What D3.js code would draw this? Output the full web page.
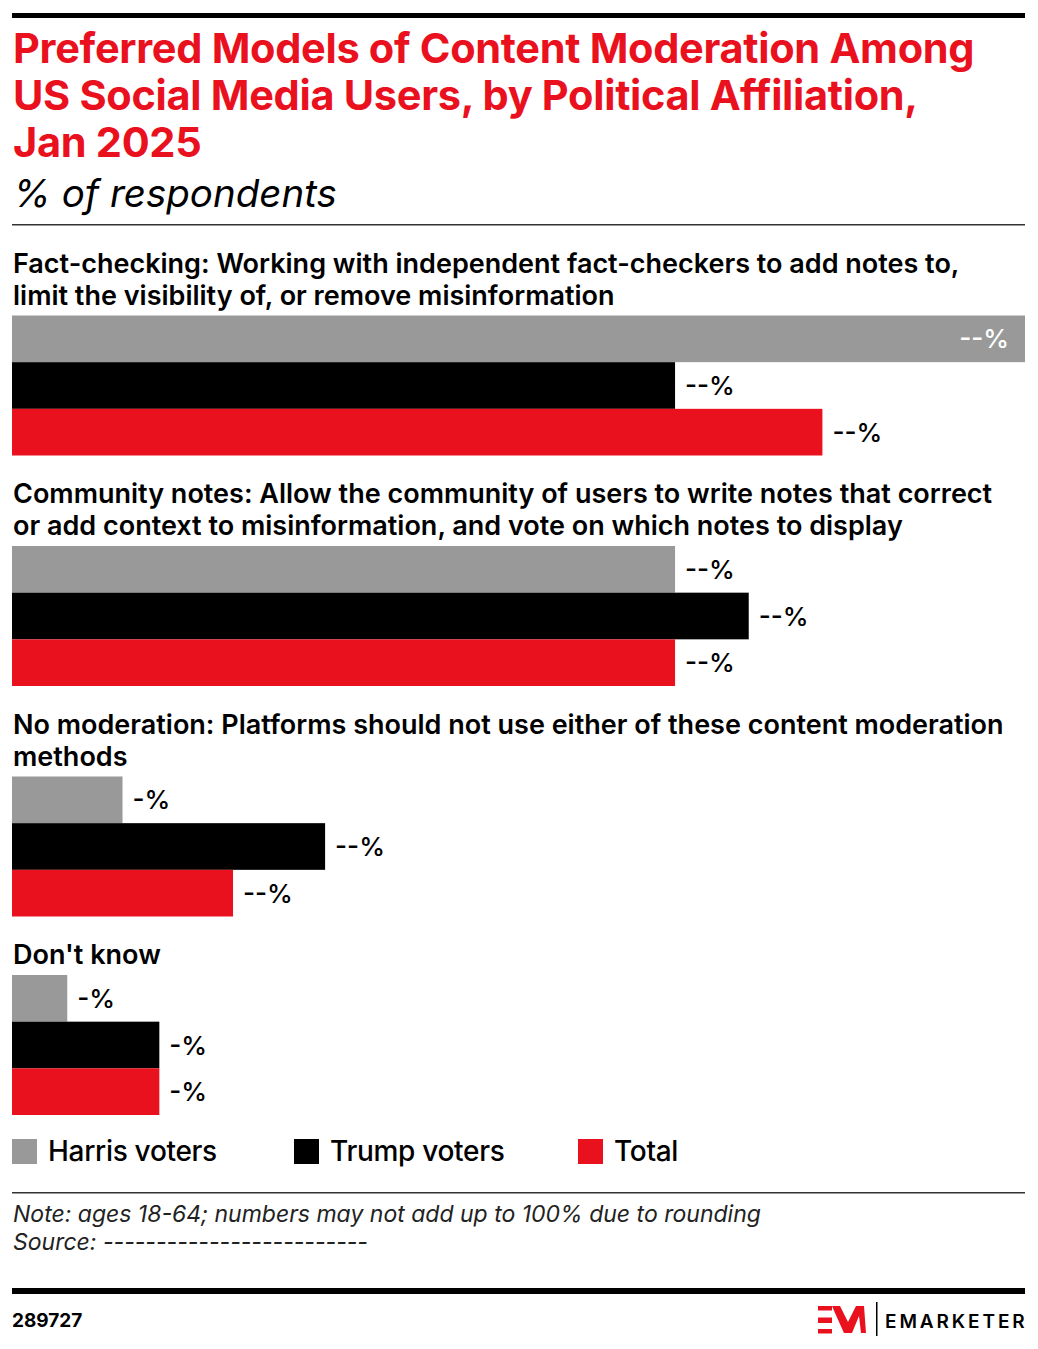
<!DOCTYPE html>
<html>
<head>
<meta charset="utf-8">
<script src="https://cdn.jsdelivr.net/npm/d3@7/dist/d3.min.js"></script>
<style>
  html, body { margin: 0; padding: 0; background: #fff; }
  svg { display: block; }
  text { font-family: Inter, "Noto Sans", sans-serif; }
</style>
</head>
<body>
<svg id="chart" width="1038" height="1349"></svg>
<script>
// ---- Data ----
const titleLines = ["Preferred Models of Content Moderation Among", "US Social Media Users, by Political Affiliation,", "Jan 2025"];
const subtitle = "% of respondents";
const categories = [
  ["Fact-checking: Working with independent fact-checkers to add notes to,", "limit the visibility of, or remove misinformation"],
  ["Community notes: Allow the community of users to write notes that correct", "or add context to misinformation, and vote on which notes to display"],
  ["No moderation: Platforms should not use either of these content moderation", "methods"],
  ["Don't know"]
];
const series = ["Harris voters", "Trump voters", "Total"];
const harrisValues = [55, 36, 6, 3];
const trumpValues = [36, 40, 17, 8];
const totalValues = [44, 36, 12, 8];
const valueLabels = [
  ["--%", "--%", "--%"],
  ["--%", "--%", "--%"],
  ["-%", "--%", "--%"],
  ["-%", "-%", "-%"]
];
const note = "Note: ages 18-64; numbers may not add up to 100% due to rounding";
const source = "Source: -------------------------";
const chartId = "289727";

// ---- Styles ----
const colors = { "Harris voters": "#999999", "Trump voters": "#000000", "Total": "#ea111e" };
const red = "#ea111e";
const left = 12, right = 1025;

const svg = d3.select("#chart");

// top rule
svg.append("rect").attr("x", left).attr("y", 13).attr("width", right - left).attr("height", 5).attr("fill", "#000");

// title
svg.append("g").selectAll("text").data(titleLines).join("text")
  .attr("x", 13).attr("y", (d, i) => 63 + i * 47)
  .attr("fill", red).attr("font-size", 41.5).attr("font-weight", 700)
  .attr("letter-spacing", -0.3)
  .text(d => d);

svg.append("text").attr("x", 13).attr("y", 207)
  .attr("font-size", 38.5).attr("font-style", "italic").attr("font-weight", 400)
  .attr("fill", "#000").text(subtitle);

svg.append("rect").attr("x", left).attr("y", 224).attr("width", right - left).attr("height", 1.5).attr("fill", "#333");

// scales
const x = d3.scaleLinear().domain([0, 55]).range([left, right]);

const lineH = 32;
const barBlock = 140;
let cursor = 263; // center of first label line
const groups = categories.map((lines, i) => {
  const labelY = cursor;
  const barsTop = labelY + 20.5 + lineH * (lines.length - 1);
  cursor = barsTop + barBlock + 38;
  return { lines, labelY, barsTop, i };
});

const seriesVals = { "Harris voters": harrisValues, "Trump voters": trumpValues, "Total": totalValues };

groups.forEach(g => {
  const gg = svg.append("g");
  gg.selectAll("text.cat").data(g.lines).join("text")
    .attr("class", "cat")
    .attr("x", 13).attr("y", (d, j) => g.labelY + j * lineH + 9.5)
    .attr("font-size", 27).attr("font-weight", 600).attr("fill", "#000")
    .attr("letter-spacing", 0)
    .text(d => d);

  const yb = d3.scaleBand().domain(series).range([g.barsTop, g.barsTop + barBlock]).padding(0);
  const data = series.map((s, k) => ({ s, v: seriesVals[s][g.i], label: valueLabels[g.i][k] }));

  gg.selectAll("rect.bar").data(data).join("rect")
    .attr("class", "bar")
    .attr("x", x(0)).attr("y", d => yb(d.s))
    .attr("width", d => x(d.v) - x(0)).attr("height", yb.bandwidth())
    .attr("fill", d => colors[d.s]);

  gg.selectAll("text.val").data(data).join("text")
    .attr("class", "val")
    .each(function(d) {
      const inside = x(d.v) > right - 80;
      d3.select(this)
        .attr("x", inside ? x(d.v) - 16 : x(d.v) + 10)
        .attr("text-anchor", inside ? "end" : "start")
        .attr("fill", inside ? "#fff" : "#000");
    })
    .attr("y", d => yb(d.s) + yb.bandwidth() / 2 + 9.5)
    .attr("font-size", 26).attr("font-weight", 500)
    .text(d => d.label);
});

// legend
const legendX = [12, 294, 578];
const lg = svg.append("g").selectAll("g").data(series).join("g")
  .attr("transform", (d, i) => `translate(${legendX[i]},1139)`);
lg.append("rect").attr("width", 25).attr("height", 25).attr("fill", d => colors[d]);
lg.append("text").attr("x", 36).attr("y", 22).attr("font-size", 28).attr("font-weight", 500)
  .attr("fill", "#000").attr("letter-spacing", -0.3).text(d => d);

// bottom rule & notes
svg.append("rect").attr("x", left).attr("y", 1192).attr("width", right - left).attr("height", 1.5).attr("fill", "#333");
svg.append("text").attr("x", 13).attr("y", 1222).attr("font-size", 23).attr("font-style", "italic")
  .attr("fill", "#222").text(note);
svg.append("text").attr("x", 13).attr("y", 1250).attr("font-size", 23).attr("font-style", "italic")
  .attr("fill", "#222").text(source);

svg.append("rect").attr("x", left).attr("y", 1288).attr("width", right - left).attr("height", 6).attr("fill", "#000");
svg.append("text").attr("x", 12).attr("y", 1327).attr("font-size", 19).attr("font-weight", 700)
  .attr("fill", "#000").text(chartId);

// logo
const logo = svg.append("g");
[[1306, 4.5], [1317.5, 5.5], [1329, 4.5]].forEach(([yy, h]) => {
  logo.append("rect").attr("x", 818).attr("y", yy).attr("width", 14).attr("height", h).attr("fill", red);
});
logo.append("path")
  .attr("d", "M832,1306 L840,1306 L848,1322 L856,1306 L864,1306 L866,1333 L861,1333 L859,1316 L852,1333 L844,1333 L835,1313 Z")
  .attr("fill", red);
logo.append("rect").attr("x", 876).attr("y", 1302).attr("width", 1.5).attr("height", 34).attr("fill", "#000");
logo.append("text").attr("x", 885).attr("y", 1328).attr("font-size", 19).attr("font-weight", 600)
  .attr("letter-spacing", 2.9).attr("fill", "#000").text("EMARKETER");
</script>
</body>
</html>
